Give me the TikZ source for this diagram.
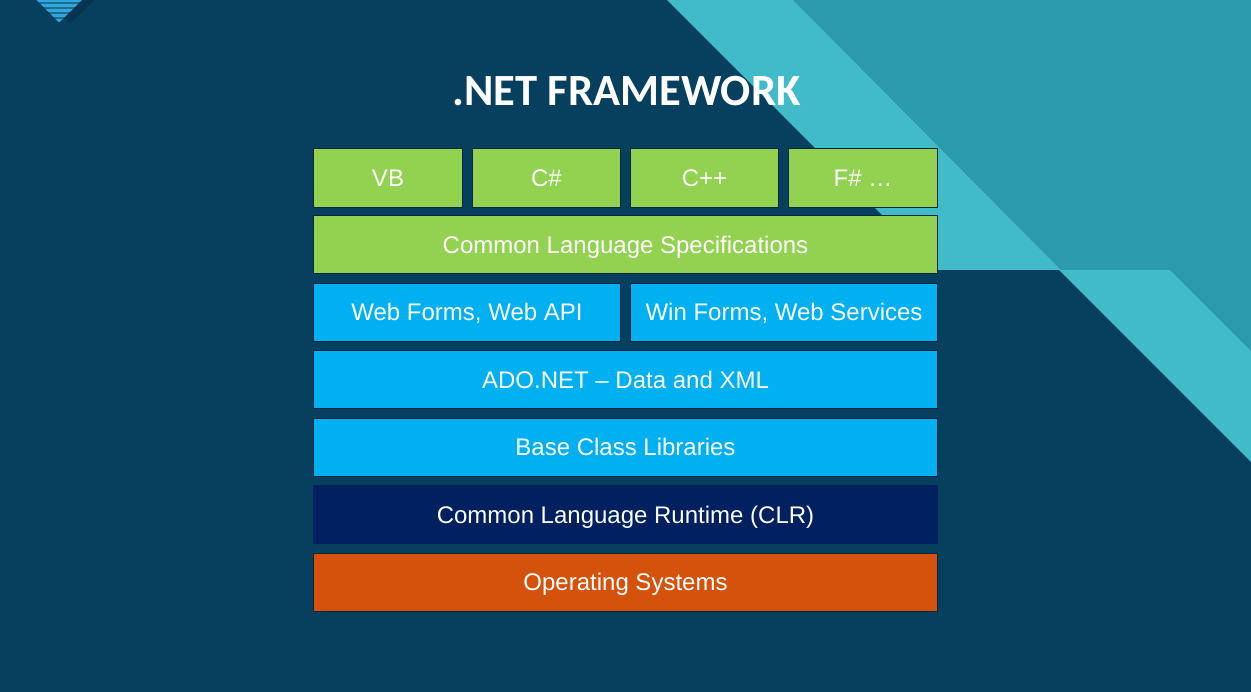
\documentclass[tikz,border=0pt]{standalone}
\usepackage{fontspec}
\setmainfont{Liberation Sans}
\newfontfamily\titlefont{Carlito}
\definecolor{bgc}{HTML}{07405E}
\definecolor{lightband}{HTML}{41BBCA}
\definecolor{tealband}{HTML}{2B9BAC}
\definecolor{gr}{HTML}{92D250}
\definecolor{bl}{HTML}{00B0F0}
\definecolor{nv}{HTML}{002060}
\definecolor{og}{HTML}{D4520B}
\definecolor{edgec}{HTML}{04283F}
\definecolor{shadowc}{HTML}{063552}
\definecolor{stripec}{HTML}{2FA5E6}
\definecolor{stripedark}{HTML}{1F6F82}
\tikzset{
  layer/.style={draw=edgec,line width=1pt,anchor=north west,inner sep=0pt,outer sep=0pt,
    text=white,align=center,font=\fontsize{24}{28}\selectfont,text height=22pt,text depth=5pt},
  greenbox/.style={layer,fill=gr},
  bluebox/.style={layer,fill=bl},
  navybox/.style={layer,fill=nv,draw=nv},
  orangebox/.style={layer,fill=og},
  sz/.style 2 args={minimum width=#1pt,minimum height=#2pt}
}
\begin{document}
\begin{tikzpicture}[x=1pt,y=-1pt]
\useasboundingbox (0,0) rectangle (1251,692);
\fill[bgc] (0,0) rectangle (1251,692);
% bands
\fill[lightband] (667,0) -- (937,270) -- (1059,270) -- (1251,462) -- (1251,0) -- cycle;
\fill[tealband] (793,0) -- (1061,270) -- (1170,270) -- (1251,351) -- (1251,0) -- cycle;
% logo
\fill[shadowc] (82,0) -- (95,0) -- (70,23.5) -- (65.5,17) -- cycle;
\begin{scope}
\clip (36.5,0) -- (82,0) -- (59,22.5) -- cycle;
\fill[stripedark] (30,0) rectangle (90,25);
\foreach \yy in {0,5,10,15,20}{\fill[stripec] (30,\yy-0.5) rectangle (90,\yy+2.5);}
\end{scope}
% title
\node[text=white,font=\titlefont\bfseries\fontsize{44.6}{50}\selectfont,inner sep=0pt] (title) at (626.5,91) {.NET FRAMEWORK};
% layers
\node[greenbox,sz={149}{59}] (vb) at (313.5,148.5) {VB};
\node[greenbox,sz={148}{59}] (cs) at (472.5,148.5) {C\#};
\node[greenbox,sz={148}{59}] (cpp) at (630.5,148.5) {C++};
\node[greenbox,sz={149}{59}] (fs) at (788.5,148.5) {F\# …};
\node[greenbox,sz={624}{58},text height=23pt] (cls) at (313.5,215.5) {Common Language Specifications};
\node[bluebox,sz={307}{58}] (web) at (313.5,283.5) {Web Forms, Web API};
\node[bluebox,sz={307}{58}] (win) at (630.5,283.5) {Win Forms, Web Services};
\node[bluebox,sz={624}{58},text height=23pt] (ado) at (313.5,350.5) {ADO.NET – Data and XML};
\node[bluebox,sz={624}{58}] (bcl) at (313.5,418.5) {Base Class Libraries};
\node[navybox,sz={624}{58}] (clr) at (313.5,485.5) {Common Language Runtime (CLR)};
\node[orangebox,sz={624}{58},text height=21pt] (os) at (313.5,553.5) {Operating Systems};
\end{tikzpicture}
\end{document}
